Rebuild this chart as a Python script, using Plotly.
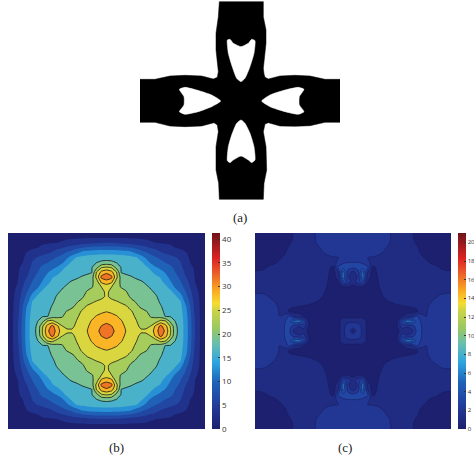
import numpy as np
import plotly.graph_objects as go

W, H = 474, 466

# panel (a) outline (pixels x3, y down)
shape_x = [268, 400, 400, 404, 408, 408, 402, 400, 402, 405, 415, 450, 495, 540, 585, 630, 630, 585, 540, 495, 450, 415, 405, 402, 400,
           404, 408, 410, 402, 400, 268, 266, 258, 258, 262, 265, 262, 252, 215, 165, 120, 75, 30, 30, 75, 120, 165, 215, 250,
           262, 265, 262, 258, 258, 262, 265, 268]
shape_y = [5, 5, 50, 70, 90, 130, 180, 205, 222, 232, 237, 228, 226, 228, 238, 238, 367, 367, 377, 379, 378, 368, 372, 385, 395,
           418, 440, 510, 550, 598, 598, 550, 510, 440, 415, 395, 375, 368, 378, 380, 378, 367, 367, 238, 238, 228, 226, 228, 237,
           232, 215, 180, 150, 100, 70, 50, 5]
hole_top_x = [292, 300, 310, 333, 355, 365, 375, 372, 360, 345, 333, 320, 305, 295, 292]
hole_top_y = [120, 118, 130, 140, 130, 118, 122, 160, 200, 235, 245, 235, 195, 160, 120]
hole_bot_x = [333, 345, 360, 372, 375, 365, 355, 333, 310, 300, 292, 295, 305, 320, 333]
hole_bot_y = [360, 370, 400, 440, 480, 488, 480, 468, 480, 488, 482, 440, 405, 370, 360]
hole_left_x = [148, 165, 200, 245, 272, 245, 205, 165, 148, 162, 162, 148]
hole_left_y = [268, 262, 270, 285, 303, 320, 335, 343, 335, 315, 290, 268]
hole_right_x = [395, 420, 465, 505, 522, 508, 508, 522, 505, 465, 420, 395]
hole_right_y = [303, 285, 270, 262, 268, 290, 315, 335, 343, 335, 320, 303]

# panel (b) field, centre to edge, lower triangle (the picture is symmetric)
b_rows = [
    [33],
    [31, 30.1],
    [29.2, 28.9, 28],
    [28, 27.8, 27.2, 26.3],
    [26.9, 26.5, 26, 25.3, 24.6],
    [25.8, 25.6, 25.2, 24.8, 24.3, 22.8],
    [25.2, 24.7, 24.2, 23.6, 22.8, 21.6, 20.8],
    [24.4, 23.4, 22.8, 22.3, 21.8, 20.6, 20.1, 19.7],
    [24.9, 22.8, 21.9, 21.5, 21.1, 20.2, 19.8, 19.3, 18.8],
    [25.4, 24.1, 21.4, 20.9, 20.5, 20, 19.4, 19, 18.4, 17.7],
    [28.5, 27.7, 22.5, 20.4, 19.8, 19.3, 18.8, 18.3, 17.6, 16.9, 16.1],
    [32, 30.8, 25, 19.6, 18.7, 18.2, 17.6, 17.2, 16.7, 16.1, 15.6, 14.8],
    [29.3, 28, 24.3, 17.8, 17.4, 17.1, 16.9, 16.5, 16.1, 15.5, 14.2, 12.9, 11.7],
    [24.2, 23.6, 20, 17.8, 17.4, 17, 16.6, 16.2, 15.6, 14.1, 12.2, 11.2, 10.4, 9.6],
    [18.9, 18.6, 17.9, 17, 16.8, 16.6, 16.3, 15.6, 13.8, 11.4, 10.6, 9.8, 8.9, 8.2, 7.5],
    [16.6, 16.6, 16.5, 16.3, 16.1, 15.8, 15.4, 13.4, 11.5, 10.3, 9.2, 8.4, 7.6, 6.9, 6.2, 5.3],
    [14, 14, 13.9, 13.7, 13.4, 12.8, 11.2, 10.3, 9.2, 8.2, 7.2, 6.2, 5.5, 4.9, 4.3, 3.8, 3.2],
    [10.2, 10.1, 10, 9.8, 9.5, 9, 8.4, 7.6, 6.8, 5.9, 5.4, 4.9, 4.3, 3.6, 3, 2.7, 2.4, 2.1],
    [6, 5.9, 5.7, 5.4, 5.1, 4.8, 4.5, 4.1, 3.8, 3.3, 3, 2.8, 2.7, 2.6, 2.5, 2.3, 2.1, 1.9, 1.6],
    [3, 3, 2.95, 2.9, 2.9, 2.8, 2.8, 2.7, 2.6, 2.5, 2.4, 2.3, 2.2, 2.1, 2, 1.9, 1.7, 1.5, 1.3, 1],
    [2.4, 2.4, 2.4, 2.4, 2.4, 2.3, 2.3, 2.3, 2.2, 2.2, 2.1, 2.1, 2, 1.9, 1.8, 1.7, 1.5, 1.3, 1.1, 0.9, 0.8],
]

# panel (c) field, same grid
c_rows = [
    [0.5],
    [3, 2.6],
    [1.6, 1.6, 1.5],
    [0.7, 0.7, 0.7, 0.6],
    [0.6, 0.6, 0.6, 0.6, 0.6],
    [0.6, 0.6, 0.6, 0.6, 0.6, 0.6],
    [0.6, 0.6, 0.6, 0.6, 0.6, 0.6, 0.8],
    [0.6, 0.7, 0.6, 0.6, 0.6, 0.6, 0.9, 1.3],
    [0.5, 0.9, 0.6, 1, 0.6, 0.7, 1.1, 1.5, 1.5],
    [0.6, 0.9, 0.9, 0.6, 0.6, 0.8, 1.3, 1.5, 1.5, 1.5],
    [1.6, 2.4, 3.6, 0.9, 0.6, 0.9, 1.4, 1.5, 1.5, 1.5, 1.5],
    [1, 2.2, 6, 1.6, 0.5, 1, 1.5, 1.5, 1.5, 1.5, 1.5, 1.5],
    [1.6, 2.6, 5.5, 2, 0.5, 1.1, 1.5, 1.5, 1.5, 1.5, 1.5, 1.5, 1.5],
    [3.2, 3.4, 3.6, 3.2, 0.8, 1.2, 1.5, 1.5, 1.5, 1.5, 1.5, 1.5, 1.5, 1.5],
    [3, 3, 2.8, 2.3, 1.6, 1.5, 1.5, 1.5, 1.5, 1.5, 1.5, 1.5, 1.5, 1.5, 1.4],
    [2.1, 2.1, 2.1, 2, 1.9, 1.8, 1.6, 1.5, 1.5, 1.5, 1.5, 1.5, 1.5, 1.4, 1.1, 0.9],
    [2.5, 2.5, 2.5, 2.5, 2.5, 2.3, 2, 1.7, 1.5, 1.5, 1.5, 1.5, 1.4, 1.2, 0.9, 0.7, 0.7],
    [2.6, 2.6, 2.6, 2.6, 2.6, 2.6, 2.4, 1.9, 1.6, 1.5, 1.5, 1.5, 1.3, 1.1, 0.8, 0.7, 0.7, 0.7],
    [2.6, 2.6, 2.6, 2.6, 2.6, 2.6, 2.6, 2.3, 1.7, 1.5, 1.5, 1.4, 1.2, 0.9, 0.7, 0.7, 0.7, 0.7, 0.7],
    [2.6, 2.6, 2.6, 2.6, 2.6, 2.6, 2.6, 2.4, 1.8, 1.5, 1.5, 1.4, 1.1, 0.8, 0.7, 0.7, 0.7, 0.7, 0.7, 0.7],
    [2.6, 2.6, 2.6, 2.6, 2.6, 2.6, 2.6, 2.5, 1.8, 1.5, 1.5, 1.4, 1.1, 0.8, 0.7, 0.7, 0.7, 0.7, 0.7, 0.7, 0.7],
]

b_ticks = [0, 5, 10, 15, 20, 25, 30, 35, 40]
c_ticks = [0, 2, 4, 6, 8, 10, 12, 14, 16, 18, 20]
b_max = 41.3
c_max = 21
b_shift = 1.5   # contour bands take the colour of their upper level otherwise
c_shift = -0.8

jet = [[0, "rgb(28,32,110)"], [0.12, "rgb(35,60,155)"], [0.24, "rgb(30,100,185)"], [0.34, "rgb(45,165,225)"],
       [0.435, "rgb(105,190,175)"], [0.51, "rgb(150,200,100)"], [0.605, "rgb(205,212,70)"], [0.64, "rgb(245,220,50)"],
       [0.70, "rgb(250,175,35)"], [0.80, "rgb(235,90,40)"], [0.87, "rgb(220,35,35)"], [1, "rgb(110,20,25)"]]


def full_field(rows):
    # mirror the triangle over the diagonal, then over both axes
    n = len(rows)
    q = np.zeros((n, n))
    for j, row in enumerate(rows):
        for i, val in enumerate(row):
            q[j, i] = val
            q[i, j] = val
    top = np.hstack([q[:, :0:-1], q])
    return np.vstack([top[:0:-1], top])


def px_x(a, b):
    return [a / W, b / W]


def px_y(top, bottom):
    return [(H - bottom) / H, (H - top) / H]


def bar(x_px, ticks, size):
    return dict(x=x_px / W, xanchor="left", y=(H - 429) / H, yanchor="bottom",
                len=196 / H, lenmode="fraction", thickness=8, thicknessmode="pixels",
                xpad=0, ypad=0, outlinewidth=0, tickvals=ticks, ticks="inside", ticklen=2, tickcolor="#333",
                tickfont=dict(size=size, color="#333"))


fig = go.Figure()

# (a)
fig.add_trace(go.Scatter(x=shape_x, y=shape_y, mode="lines", fill="toself", fillcolor="black",
                         line=dict(color="black", width=0.5),
                         xaxis="x3", yaxis="y3", hoverinfo="skip"))
for hx, hy in [(hole_top_x, hole_top_y), (hole_bot_x, hole_bot_y), (hole_left_x, hole_left_y), (hole_right_x, hole_right_y)]:
    fig.add_trace(go.Scatter(x=hx, y=hy, mode="lines", fill="toself", fillcolor="white",
                             line=dict(color="white", width=0.5, shape="spline", smoothing=0.5),
                             xaxis="x3", yaxis="y3", hoverinfo="skip"))

# (b)
z_b = full_field(b_rows)
fig.add_trace(go.Heatmap(z=z_b, zmin=0, zmax=b_max, colorscale=jet, xaxis="x", yaxis="y", colorbar=bar(212, b_ticks, 8)))
fig.add_trace(go.Contour(z=z_b, zmin=b_shift, zmax=b_max + b_shift, colorscale=jet, showscale=False, xaxis="x", yaxis="y",
                         contours=dict(start=3, end=39, size=3, coloring="fill", showlines=False),
                         line=dict(smoothing=0.4, width=0)))
fig.add_trace(go.Contour(z=z_b, showscale=False, xaxis="x", yaxis="y",
                         contours=dict(start=18, end=30, size=3, coloring="none"),
                         line=dict(color="#111", width=0.8, smoothing=0.4)))

# (c)
z_c = full_field(c_rows)
fig.add_trace(go.Heatmap(z=z_c, zmin=0, zmax=c_max, colorscale=jet, xaxis="x2", yaxis="y2", colorbar=bar(458, c_ticks, 6)))
fig.add_trace(go.Contour(z=z_c, zmin=c_shift, zmax=c_max + c_shift, colorscale=jet, showscale=False, xaxis="x2", yaxis="y2",
                         contours=dict(start=1, end=20, size=1, coloring="fill", showlines=False),
                         line=dict(smoothing=0.8, width=0)))
fig.add_trace(go.Contour(z=z_c, showscale=False, xaxis="x2", yaxis="y2",
                         contours=dict(start=1, end=7, size=1, coloring="none"),
                         line=dict(color="rgb(25,28,95)", width=0.6, smoothing=0.8)))

off = dict(visible=False, showgrid=False, zeroline=False)
labels = [("(a)", 240, 217), ("(b)", 116, 447), ("(c)", 345, 447)]
fig.update_layout(
    width=W, height=H, margin=dict(l=0, r=0, t=0, b=0, autoexpand=False), showlegend=False,
    paper_bgcolor="white", plot_bgcolor="white",
    xaxis=dict(domain=px_x(8, 205), range=[0, len(b_rows) * 2 - 2], **off),
    yaxis=dict(domain=px_y(233, 429), range=[0, len(b_rows) * 2 - 2], **off),
    xaxis2=dict(domain=px_x(255, 451), range=[0, len(c_rows) * 2 - 2], **off),
    yaxis2=dict(domain=px_y(233, 429), range=[0, len(c_rows) * 2 - 2], **off),
    xaxis3=dict(domain=px_x(140, 340), range=[30, 630], **off),
    yaxis3=dict(domain=px_y(0, 200), range=[600, 0], **off),
    annotations=[dict(text=t, x=x / W, y=1 - y / H, xref="paper", yref="paper", showarrow=False,
                      xanchor="center", yanchor="middle",
                      font=dict(family="Liberation Serif", size=13, color="#222")) for t, x, y in labels],
)

fig.write_html("out.html", config={"displayModeBar": False},
               post_script="document.body.style.margin='0';document.body.style.overflow='hidden';")
